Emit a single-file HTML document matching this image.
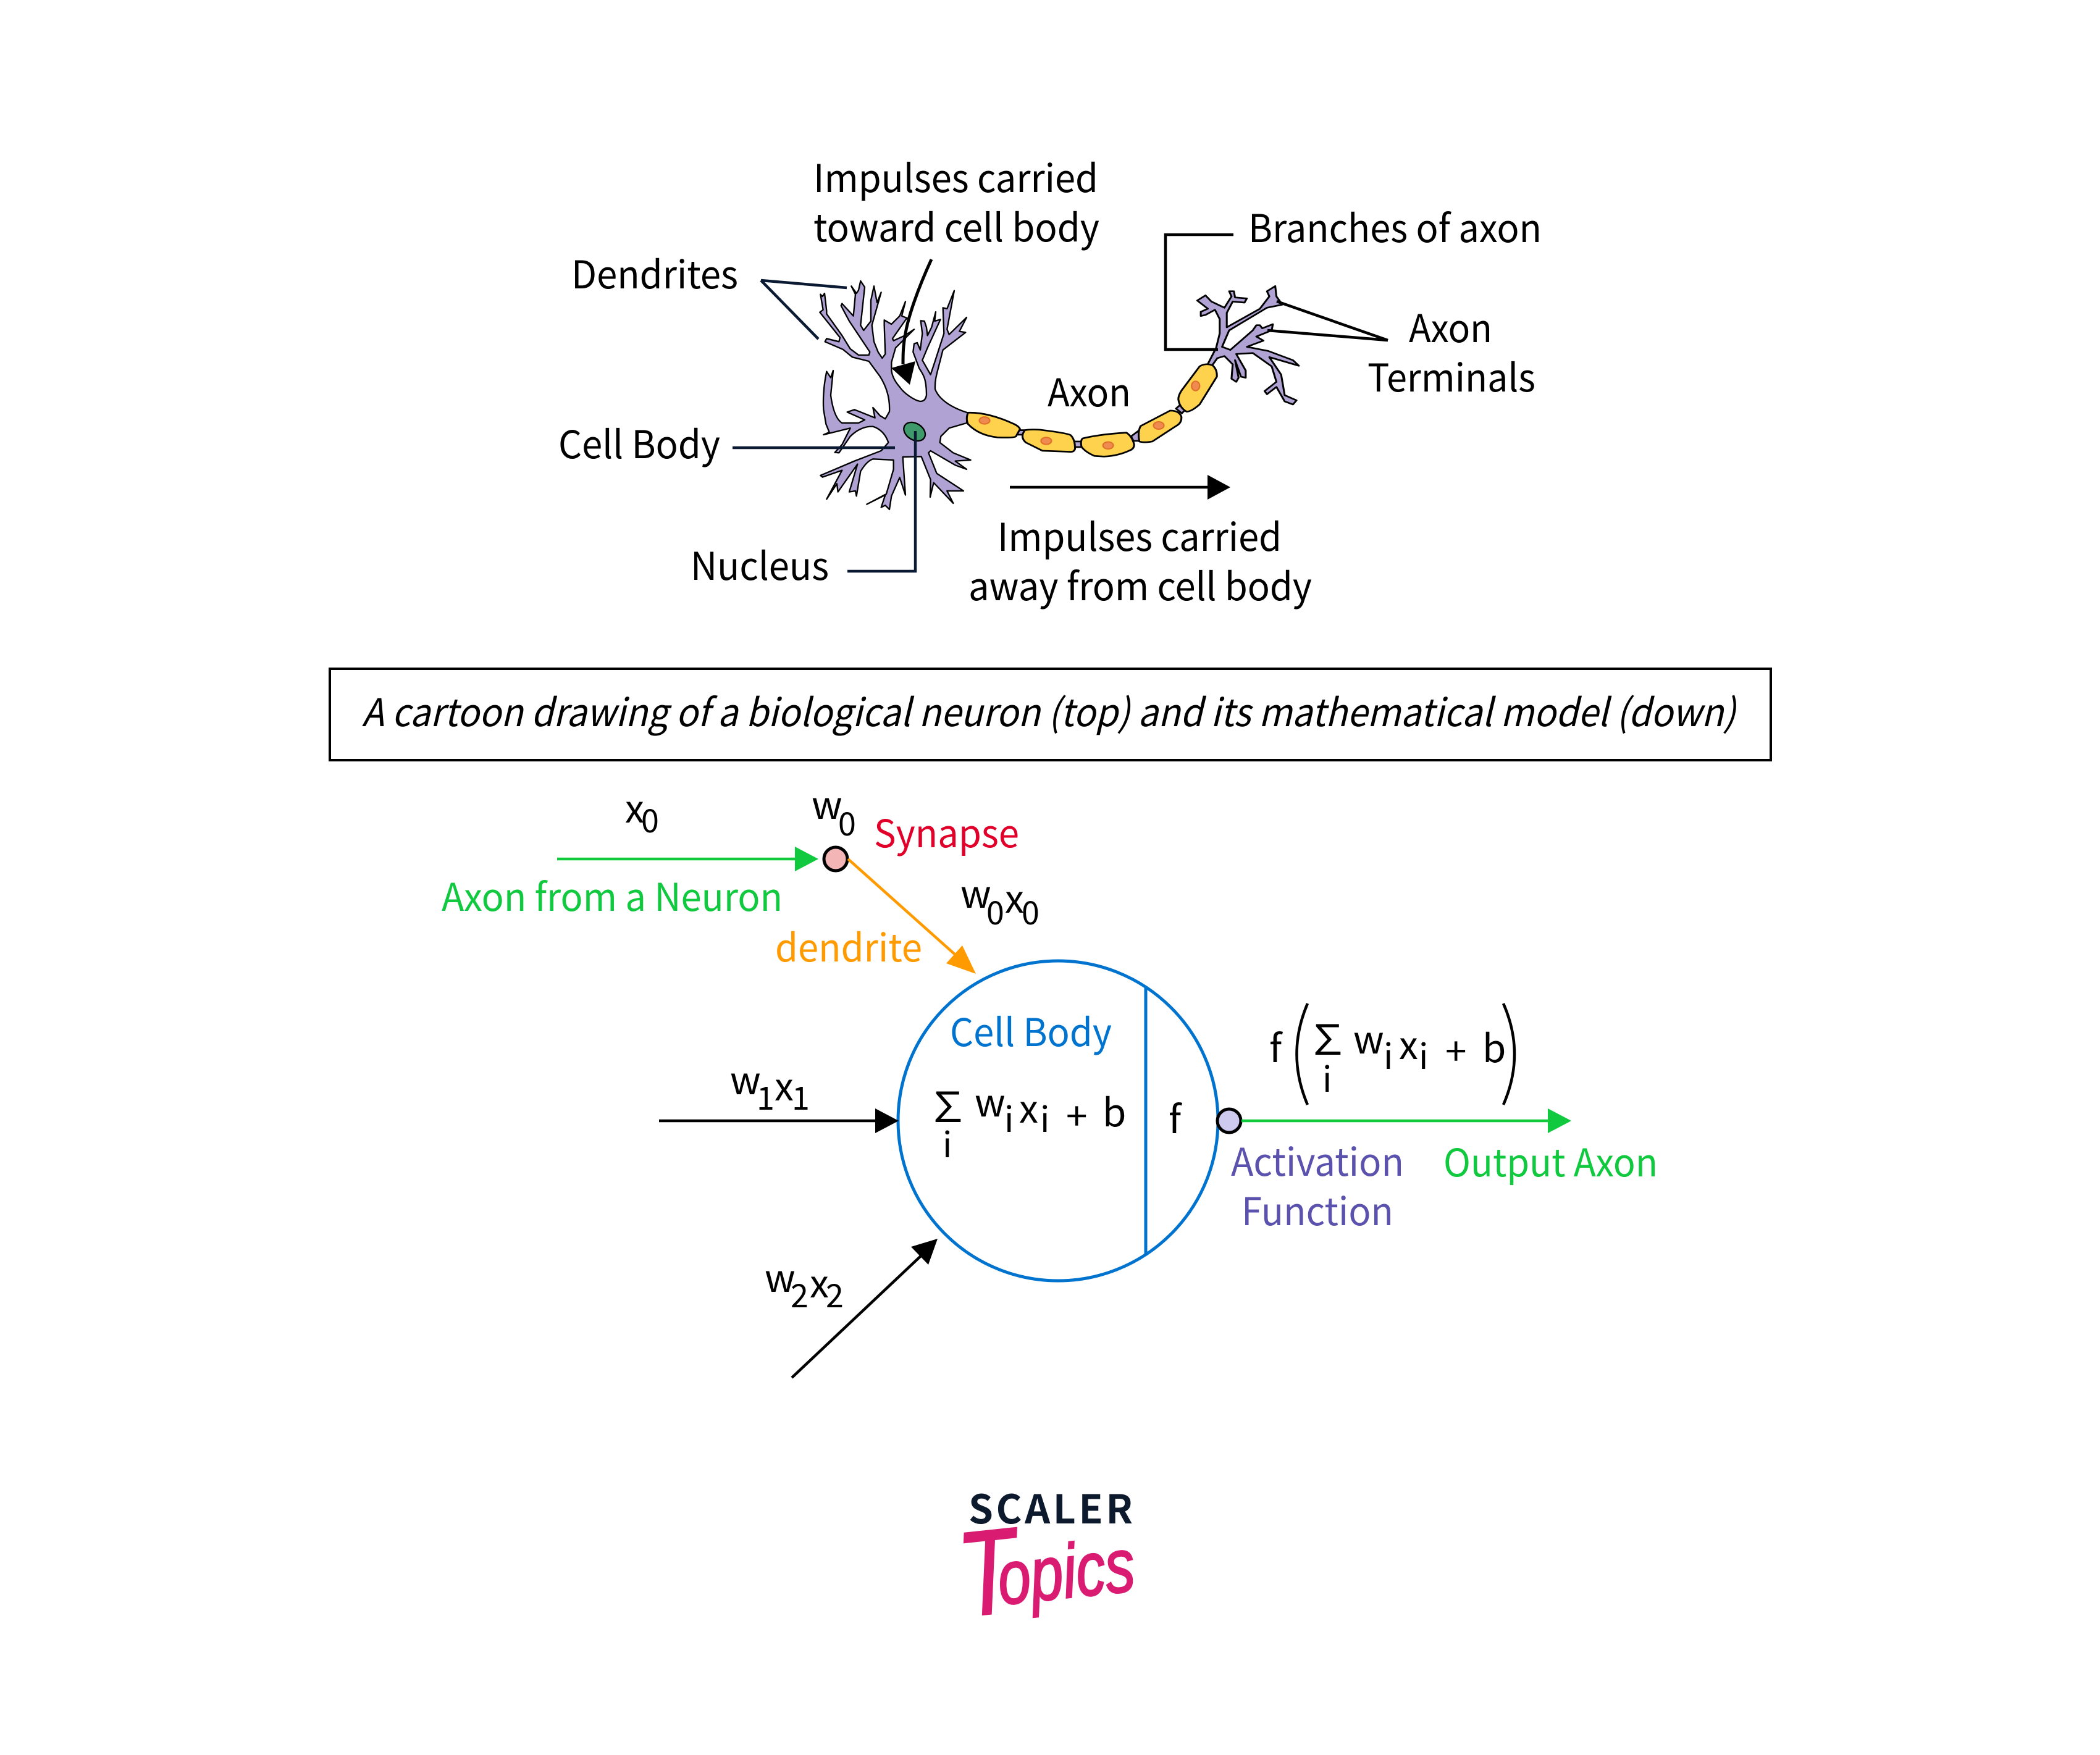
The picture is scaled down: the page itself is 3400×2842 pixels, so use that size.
<!DOCTYPE html>
<html><head><meta charset="utf-8"><style>
html,body{margin:0;padding:0;background:#fff}
svg{display:block}
text{font-family:"Noto Sans CJK JP","Liberation Sans",sans-serif;font-size:62px;fill:#000}
.s{font-size:52px}
.i{font-size:56px}
</style></head><body>
<svg xmlns="http://www.w3.org/2000/svg" width="3400" height="2842" viewBox="0 0 3400 2842">
<rect width="3400" height="2842" fill="#fff"/>
<!-- neuron soma -->
<g transform="translate(1250,400) scale(.3333)" stroke="#000" stroke-width="7" stroke-linejoin="round">
<path fill="#b0a3d4" d="M950 805C870 780 810 740 792 690C790 640 800 620 830 500L940 415 910 410 945 342 860 425 850 400 885 212 850 300 830 295 835 420 790 560 770 620 730 550 755 490 818 352 790 360 795 315 775 390 755 430 750 390 740 360 722 358 730 420 720 500 705 465 690 470 685 510 715 590C735 620 750 640 750 720Q745 750 720 750C690 745 640 710 620 680Q585 640 580 600L580 560 600 490 690 400 645 430 590 455 585 445 655 345 630 335 648 265 620 335 580 375 545 355 545 380 550 520 535 540 515 510 495 460 485 380 530 220 510 270 495 190 480 260 480 360 445 405 430 380 450 195 430 165 420 210 410 225 385 190 405 230 395 335 340 275 335 285 375 360 475 510 470 525 420 525 380 495 340 430 265 325 265 310 255 225 245 240 235 230 248 305 232 317 330 440 325 460 265 445 257 460 345 498 390 535 470 555 525 630Q575 710 570 800L550 835 525 820 490 780 500 830 400 790 365 802 450 840 420 855 340 855Q300 830 285 720L297 600 285 635 265 605Q245 700 250 790L262 860 278 900 250 912 380 880 340 960 305 998 325 1000 380 920Q430 870 490 872Q545 890 565 950L530 990 400 1040 235 1110 245 1118 340 1085 265 1225 315 1150 320 1190 415 1055 375 1190 405 1185 410 1210 430 1090Q460 1040 490 1030L590 1035 590 1080 555 1200 460 1250 550 1205 530 1265 550 1255 570 1275 580 1210 620 1120 648 1205 635 1020 725 1018 770 1130 768 1215 785 1145 880 1245 850 1185 930 1185 800 1100 760 1000 770 990 890 1060 945 1080 890 1040 965 1035 880 1000 815 950 820 920 860 880 945 855Z"/>
<ellipse cx="692" cy="897" rx="56" ry="40" transform="rotate(32 692 897)" fill="#3f9a6b"/>
</g>
<!-- axon + terminal -->
<g transform="translate(1550,430) scale(.38265,.3333)" stroke="#000" stroke-width="8" stroke-linejoin="round">
<path fill="#b0a3d4" d="M1060 478L1095 400 1110 330 1110 260 1090 215 1050 240 1030 245 1030 225 1060 210 1015 170 1050 145 1075 175 1130 205 1160 150 1150 125 1170 125 1175 155 1225 160 1215 180 1165 175 1140 230 1140 300 1280 210 1320 150 1310 125 1345 100 1350 150 1375 190 1310 205 1150 315 1120 395 1155 410 1250 315 1265 290 1280 290 1290 305 1335 285 1330 315 1265 345 1295 365 1225 395 1315 415 1420 460 1445 487 1320 445 1370 530 1385 630 1435 655 1420 675 1385 660 1350 590 1310 625 1300 610 1350 565 1330 490 1250 425 1180 430 1220 510 1220 545 1200 540 1175 460 1190 545 1180 565 1160 550 1165 480 1130 440 1100 450 1075 490Z"/>
<path fill="#b0a3d4" d="M255 800H290V822H255ZM495 855H530V882H495ZM735 830L770 800V852H745ZM925 695L945 675 965 700 950 718Z"/>
<path fill="#ffd24d" d="M45 715Q130 712 240 770Q262 782 265 795L248 830Q240 838 170 835Q90 825 45 770Q35 745 45 715Z"/>
<path fill="#ffd24d" d="M285 800Q310 795 350 798Q470 815 480 825Q498 845 498 890Q495 905 480 905L360 900 290 860Q270 840 278 815Z"/>
<path fill="#ffd24d" d="M530 840Q600 820 715 812Q740 830 748 870Q748 890 730 898Q680 925 620 928L580 925Q540 905 525 880Q520 850 530 840Z"/>
<path fill="#ffd24d" d="M775 780L900 705Q940 705 948 735Q950 765 925 780L825 855Q790 862 770 855Q762 810 775 780Z"/>
<path fill="#ffd24d" d="M1025 490Q1050 472 1080 485Q1100 505 1098 540L1025 675Q990 710 970 710Q940 690 935 650Q935 630 950 605Z"/>
<g fill="#ef8a50" stroke="#e0702a" stroke-width="6">
<ellipse cx="115" cy="753" rx="22" ry="17"/><ellipse cx="376" cy="852" rx="22" ry="17"/><ellipse cx="638" cy="874" rx="22" ry="17"/><ellipse cx="852" cy="777" rx="22" ry="18"/><ellipse cx="1008" cy="585" rx="17" ry="23"/>
</g>
</g>
<!-- leader lines -->
<g fill="none" stroke="#0b1a33" stroke-width="4.5">
<path d="M1232 454L1371 466M1232 454L1325 549"/>
<path d="M1186 725H1449"/>
<path d="M1372 925H1482V698"/>
</g>
<g fill="none" stroke="#000" stroke-width="4.5">
<path d="M1997 380H1887V566H1972"/>
<path d="M2247 551L2067 488M2247 551L2052 535"/>
<path d="M1508 420C1485 470 1470 515 1466 540C1462 560 1462 575 1462 590" stroke-width="5"/>
<path d="M1635 789H1965"/>
</g>
<polygon points="1443,596 1482,585 1473,623"/>
<polygon points="1992,789 1955,769 1955,809"/>
<!-- caption -->
<rect x="534" y="1083" width="2333" height="148" fill="none" stroke="#000" stroke-width="4"/>
<text x="586" y="1176" font-style="italic" textLength="2224" lengthAdjust="spacingAndGlyphs">A cartoon drawing of a biological neuron (top) and its mathematical model (down)</text>
<!-- top labels -->
<text x="1317" y="311" textLength="461" lengthAdjust="spacingAndGlyphs">Impulses carried</text>
<text x="1317" y="391" textLength="463" lengthAdjust="spacingAndGlyphs">toward cell body</text>
<text x="925" y="467" textLength="270" lengthAdjust="spacingAndGlyphs">Dendrites</text>
<text x="2021" y="392" textLength="475" lengthAdjust="spacingAndGlyphs">Branches of axon</text>
<text x="2281" y="554" textLength="135" lengthAdjust="spacingAndGlyphs">Axon</text>
<text x="2214" y="634" textLength="272" lengthAdjust="spacingAndGlyphs">Terminals</text>
<text x="1696" y="658" textLength="135" lengthAdjust="spacingAndGlyphs">Axon</text>
<text x="904" y="742" textLength="262" lengthAdjust="spacingAndGlyphs">Cell Body</text>
<text x="1118" y="939" textLength="224" lengthAdjust="spacingAndGlyphs">Nucleus</text>
<text x="1615" y="892" textLength="460" lengthAdjust="spacingAndGlyphs">Impulses carried</text>
<text x="1568" y="972" textLength="556" lengthAdjust="spacingAndGlyphs">away from cell body</text>
<!-- model: x0 -->
<text><tspan x="1012" y="1332">x</tspan><tspan class="s" x="1038" y="1348">0</tspan></text>
<text><tspan x="1314" y="1326">w</tspan><tspan class="s" x="1357" y="1353">0</tspan></text>
<path d="M902 1391H1300" stroke="#10c93f" stroke-width="4.5"/>
<polygon points="1325,1391 1287,1371 1287,1411" fill="#10c93f"/>
<circle cx="1353" cy="1391" r="19" fill="#f3b5b5" stroke="#000" stroke-width="5"/>
<text x="1415" y="1372" style="fill:#e0002a" textLength="235" lengthAdjust="spacingAndGlyphs">Synapse</text>
<text x="715" y="1475" style="fill:#10c93f" textLength="552" lengthAdjust="spacingAndGlyphs">Axon from a Neuron</text>
<path d="M1373 1391L1560 1558" stroke="#ff9a00" stroke-width="4.5"/>
<polygon points="1580,1577 1532,1560 1558,1531" fill="#ff9a00"/>
<text x="1255" y="1557" style="fill:#ff9a00" textLength="238" lengthAdjust="spacingAndGlyphs">dendrite</text>
<text><tspan x="1555" y="1470">w</tspan><tspan class="s" x="1597" y="1497">0</tspan><tspan x="1627" y="1478">x</tspan><tspan class="s" x="1654" y="1497">0</tspan></text>
<!-- cell -->
<circle cx="1713" cy="1815" r="259" fill="none" stroke="#0073cf" stroke-width="5"/>
<path d="M1855 1597V2032" stroke="#0073cf" stroke-width="5"/>
<text x="1538" y="1694" style="fill:#0073cf" textLength="262" lengthAdjust="spacingAndGlyphs">Cell Body</text>
<text x="1501" y="1817" style="font-size:68px">∑</text>
<text class="i" x="1526" y="1874">i</text>
<text><tspan x="1578" y="1808">w</tspan><tspan class="i" x="1626" y="1833">i</tspan><tspan x="1650" y="1818">x</tspan><tspan class="i" x="1684" y="1833">i</tspan><tspan x="1726" y="1830">+</tspan><tspan x="1785" y="1824">b</tspan></text>
<text x="1892" y="1835">f</text>
<text x="2055" y="1720">f</text>
<text x="2116" y="1708" style="font-size:68px">∑</text>
<text class="i" x="2141" y="1768">i</text>
<text><tspan x="2191" y="1706">w</tspan><tspan class="i" x="2240" y="1731">i</tspan><tspan x="2265" y="1715">x</tspan><tspan class="i" x="2297" y="1731">i</tspan><tspan x="2340" y="1725">+</tspan><tspan x="2400" y="1720">b</tspan></text>
<path d="M2117 1625Q2082 1707 2117 1789M2434 1625Q2470 1707 2434 1789" fill="none" stroke="#000" stroke-width="4.5"/>
<circle cx="1990" cy="1815" r="19" fill="#cdc9ef" stroke="#000" stroke-width="5"/>
<path d="M2010 1815H2515" stroke="#10c93f" stroke-width="4.5"/>
<polygon points="2544,1815 2506,1795 2506,1835" fill="#10c93f"/>
<text x="1993" y="1904" style="fill:#5b52ad" textLength="280" lengthAdjust="spacingAndGlyphs">Activation</text>
<text x="2010" y="1984" style="fill:#5b52ad" textLength="246" lengthAdjust="spacingAndGlyphs">Function</text>
<text x="2337" y="1905" style="fill:#10c93f" textLength="347" lengthAdjust="spacingAndGlyphs">Output Axon</text>
<!-- inputs -->
<path d="M1067 1815H1425" stroke="#000" stroke-width="4.5"/>
<polygon points="1455,1815 1417,1795 1417,1835"/>
<text><tspan x="1182" y="1772">w</tspan><tspan class="s" x="1225" y="1797">1</tspan><tspan x="1254" y="1782">x</tspan><tspan class="s" x="1282" y="1797">1</tspan></text>
<path d="M1282 2231L1495 2030" stroke="#000" stroke-width="4.5"/>
<polygon points="1518,2006 1503,2048 1475,2019"/>
<text><tspan x="1238" y="2092">w</tspan><tspan class="s" x="1280" y="2117">2</tspan><tspan x="1311" y="2101">x</tspan><tspan class="s" x="1337" y="2117">2</tspan></text>
<!-- logo -->
<text x="1568" y="2467" style="font-size:64px;font-weight:700;fill:#0d1a2d;letter-spacing:6px" textLength="272">SCALER</text>
<text transform="translate(1560,2618) rotate(-6) scale(1,1.3)" style="font-family:'Liberation Sans',sans-serif;font-style:italic;font-size:95px;fill:#d91b72;stroke:#d91b72;stroke-width:2px"><tspan style="font-size:150px">T</tspan><tspan dx="-30" dy="-10">opics</tspan></text>
</svg>
</body></html>
